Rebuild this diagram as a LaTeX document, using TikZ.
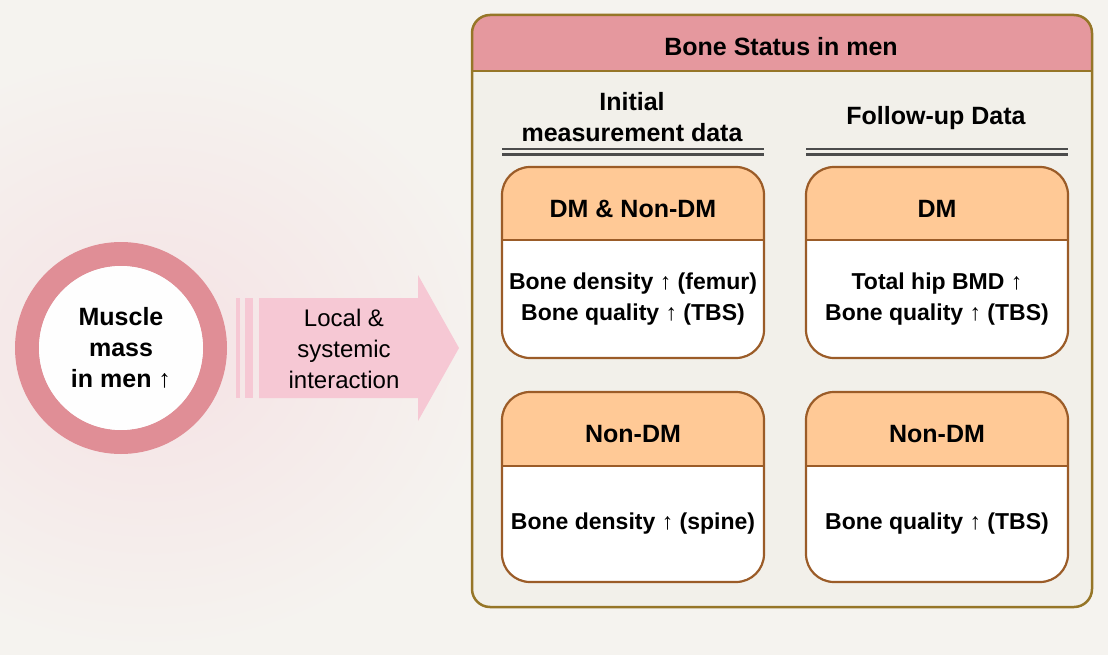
\documentclass[tikz,border=0pt]{standalone}
\usepackage{fontspec}
\setmainfont{Liberation Sans}
\begin{document}
\definecolor{bg}{RGB}{245,243,239}
\definecolor{ringc}{RGB}{224,142,150}
\definecolor{hdr}{RGB}{229,152,158}
\definecolor{olive}{RGB}{150,118,40}
\definecolor{panel}{RGB}{242,240,234}
\definecolor{orng}{RGB}{255,201,150}
\definecolor{brn}{RGB}{155,92,40}
\definecolor{arr}{RGB}{246,200,212}
\begin{tikzpicture}[x=1pt,y=-1pt,
  lbl/.style={font=\bfseries\fontsize{25}{30}\selectfont,align=center,text=black},
  body/.style={font=\bfseries\fontsize{23}{31}\selectfont,align=center,text=black},
  bx/.style={draw=brn,line width=2.2pt,rounded corners=28pt}]
\useasboundingbox (0,0) rectangle (1108,655);
\fill[bg] (0,0) rectangle (1108,655);
\shade[inner color=arr!40!bg,outer color=bg] (-200,50) rectangle (500,650);
% ring
\fill[ringc,even odd rule] (121,348) circle (106) (121,348) circle (82);
\fill[white!92!bg] (121,348) circle (82);
\node[lbl,font=\bfseries\fontsize{25}{31}\selectfont] (muscle) at (121,348) {Muscle\\mass\\in men ↑};
% arrow
\fill[arr] (236,298) rectangle (240,398);
\fill[arr] (245,298) rectangle (253,398);
\fill[arr] (259,298) -- (418,298) -- (418,275) -- (459,348) -- (418,421) -- (418,398) -- (259,398) -- cycle;
\node[font=\fontsize{24}{31}\selectfont,align=center] (inter) at (344,349) {Local \&\\systemic\\interaction};
% panel
\begin{scope}
\clip[rounded corners=18pt] (472,15) rectangle (1092,607);
\fill[panel] (472,15) rectangle (1092,607);
\fill[hdr] (472,15) rectangle (1092,71);
\end{scope}
\draw[olive,line width=2.5pt,rounded corners=18pt] (472,15) rectangle (1092,607);
\draw[olive,line width=1.5pt] (472,71) -- (1092,71);
\node[lbl] (title) at (781,47) {Bone Status in men};
\node[lbl,font=\bfseries\fontsize{25}{31}\selectfont] (c1) at (632,117) {Initial\\measurement data};
\node[lbl] (c2) at (936,118) {Follow-up Data};
\foreach \a/\b in {502/764,806/1068}{
  \draw[gray!60!black,line width=2.5pt] (\a,149) -- (\b,149);
  \draw[gray!60!black,line width=2.5pt] (\a,154.5) -- (\b,154.5);}
\newcommand\mybox[8]{%
  \begin{scope}
  \clip[rounded corners=28pt] (#2,#3) rectangle (#4,#5);
  \fill[white] (#2,#3) rectangle (#4,#5);
  \fill[orng] (#2,#3) rectangle (#4,#6);
  \end{scope}
  \draw[brn,line width=1.5pt] (#2,#6) -- (#4,#6);
  \draw[bx] (#2,#3) rectangle (#4,#5);
  \node[lbl] (#1h) at ({(#2+#4)/2},{(#3+#6)/2+5}) {#7};
  \node[body] (#1b) at ({(#2+#4)/2},{(#6+#5)/2}) {#8};}
\mybox{a}{502}{167}{764}{358}{240}{DM \& Non-DM}{Bone density ↑ (femur)\\Bone quality ↑ (TBS)}
\mybox{b}{806}{167}{1068}{358}{240}{DM}{Total hip BMD ↑\\Bone quality ↑ (TBS)}
\mybox{c}{502}{392}{764}{582}{466}{Non-DM}{Bone density ↑ (spine)}
\mybox{d}{806}{392}{1068}{582}{466}{Non-DM}{Bone quality ↑ (TBS)}
\end{tikzpicture}
\end{document}
